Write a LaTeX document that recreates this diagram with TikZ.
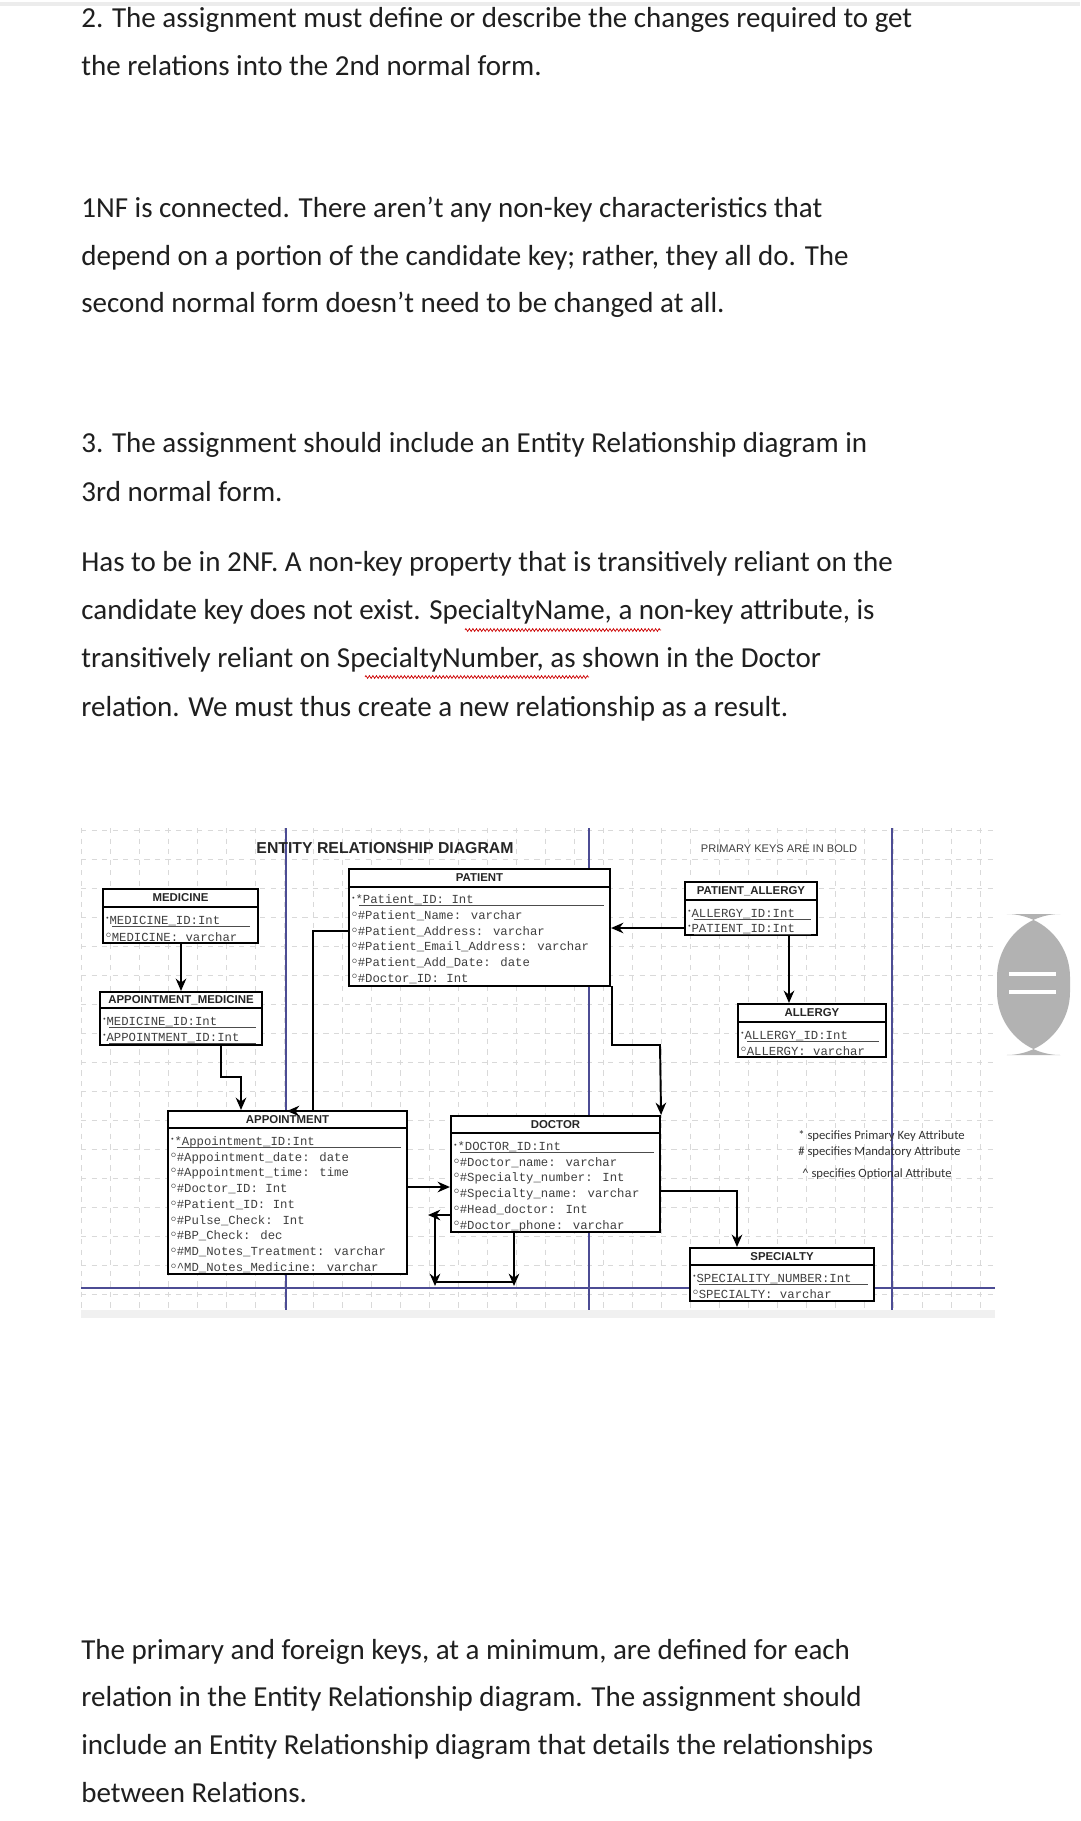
\documentclass[tikz,border=0pt]{standalone}
\usepackage{fontspec}
\setmainfont{Carlito}
\newfontfamily\monof{Liberation Mono}
\newfontfamily\hdrf{Liberation Sans}
\usetikzlibrary{fit,arrows.meta,decorations.pathmorphing}
\newcommand{\kmk}{\raisebox{2pt}{\fontsize{4}{4}\selectfont\textbullet}}
\newcommand{\omk}{\raisebox{2pt}{\fontsize{4}{4}\selectfont$\circ$}}
\begin{document}
\begin{tikzpicture}[x=0.02cm,y=-0.02cm,
  para/.style={anchor=mid west,inner sep=0,font=\fontsize{16.5}{20}\selectfont,text=black!88},
  erbox/.style={draw=black,line width=1.2pt,inner sep=0,fill=white},
  hdr/.style={font=\hdrf\bfseries\fontsize{6.5}{7}\selectfont,text=black!85,inner sep=0},
  row/.style={anchor=west,font=\monof\fontsize{7}{8}\selectfont,text=black!75,inner sep=0},
  conn/.style={line width=1.1pt,draw=black},
  arr/.style={conn,-{Stealth[length=7pt,width=6pt]}},
  blue/.style={draw=blue!40!black!70,line width=0.7pt},
  ul/.style={draw=black!70,line width=0.4pt}]
\useasboundingbox (0,0) rectangle (1080,1821);
\fill[white] (0,0) rectangle (1080,1821);
\draw[gray!15,line width=2pt] (0,4) -- (1080,4);
% paragraphs
\node[para] (t1) at (81,23) {2. The assignment must define or describe the changes required to get};
\node[para] (t2) at (81,71) {the relations into the 2nd normal form.};
\node[para] (t3) at (81,213) {1NF is connected. There aren't any non-key characteristics that};
\node[para] (t4) at (81,261) {depend on a portion of the candidate key; rather, they all do. The};
\node[para] (t5) at (81,308) {second normal form doesn't need to be changed at all.};
\node[para] (t6) at (81,448) {3. The assignment should include an Entity Relationship diagram in};
\node[para] (t7) at (81,497) {3rd normal form.};
\node[para] (t8) at (81,567) {Has to be in 2NF. A non-key property that is transitively reliant on the};
\node[para] (t9) at (81,615) {candidate key does not exist. SpecialtyName, a non-key attribute, is};
\node[para] (t10) at (81,663) {transitively reliant on SpecialtyNumber, as shown in the Doctor};
\node[para] (t11) at (81,712) {relation. We must thus create a new relationship as a result.};
\draw[red!80!black,line width=0.4pt,decorate,decoration={zigzag,amplitude=0.8pt,segment length=2pt}] (465,630) -- (661,630);
\draw[red!80!black,line width=0.4pt,decorate,decoration={zigzag,amplitude=0.8pt,segment length=2pt}] (365,677) -- (589,677);
\node[para] (t12) at (81,1655) {The primary and foreign keys, at a minimum, are defined for each};
\node[para] (t13) at (81,1702) {relation in the Entity Relationship diagram. The assignment should};
\node[para] (t14) at (81,1750) {include an Entity Relationship diagram that details the relationships};
\node[para] (t15) at (81,1798) {between Relations.};
% diagram background
\fill[white] (81,828) rectangle (995,1318);
\foreach \gx in {81,110,...,995} \draw[gray!30,dashed,line width=0.3pt] (\gx,828) -- (\gx,1310);
\foreach \gy in {830,859,...,1310} \draw[gray!30,dashed,line width=0.3pt] (81,\gy) -- (995,\gy);
\fill[gray!12] (81,1310) rectangle (995,1318);
\draw[blue] (286,828) -- (286,1310);
\draw[blue] (589,828) -- (589,1310);
\draw[blue] (892,828) -- (892,1310);
\draw[blue] (81,1288) -- (995,1288);
\node[font=\hdrf\bfseries\fontsize{9}{10}\selectfont,text=black!85] (title) at (385,848) {ENTITY RELATIONSHIP DIAGRAM};
\node[font=\hdrf\fontsize{6.3}{7}\selectfont,text=black!75] (pk) at (779,849) {PRIMARY KEYS ARE IN BOLD};
% boxes
\node[erbox,fit={(103,889)(258,943)}] (medicine) {};
\draw[line width=1.2pt] (103,907) -- (258,907);
\node[hdr] at (180.5,898) {MEDICINE};
\node[row] at (105,921) {\kmk MEDICINE\_ID:Int};
\draw[ul] (112,926) -- (250,926);
\node[row] at (105,937) {\omk MEDICINE: varchar};

\node[erbox,fit={(100,992)(262,1045)}] (apptmed) {};
\draw[line width=1.2pt] (100,1008) -- (262,1008);
\node[hdr] at (181,1000) {APPOINTMENT\_MEDICINE};
\node[row] at (102,1022) {\kmk MEDICINE\_ID:Int};
\draw[ul] (109,1027) -- (256,1027);
\node[row] at (102,1038) {\kmk APPOINTMENT\_ID:Int};
\draw[ul] (109,1043) -- (256,1043);

\node[erbox,fit={(349,869)(610,986)}] (patient) {};
\draw[line width=1.2pt] (349,887) -- (610,887);
\node[hdr] at (479.5,878) {PATIENT};
\node[row] at (351,900) {\kmk*Patient\_ID: Int};
\draw[ul] (359,905) -- (604,905);
\node[row] at (351,916) {\omk\#Patient\_Name: varchar};
\node[row] at (351,932) {\omk\#Patient\_Address: varchar};
\node[row] at (351,947) {\omk\#Patient\_Email\_Address: varchar};
\node[row] at (351,963) {\omk\#Patient\_Add\_Date: date};
\node[row] at (351,979) {\omk\#Doctor\_ID: Int};

\node[erbox,fit={(685,882)(817,935)}] (pallergy) {};
\draw[line width=1.2pt] (685,900) -- (817,900);
\node[hdr] at (751,891) {PATIENT\_ALLERGY};
\node[row] at (687,914) {\kmk ALLERGY\_ID:Int};
\draw[ul] (694,919) -- (811,919);
\node[row] at (687,929) {\kmk PATIENT\_ID:Int};
\draw[ul] (694,934) -- (811,934);

\node[erbox,fit={(738,1004)(886,1057)}] (allergy) {};
\draw[line width=1.2pt] (738,1022) -- (886,1022);
\node[hdr] at (812,1013) {ALLERGY};
\node[row] at (740,1036) {\kmk ALLERGY\_ID:Int};
\draw[ul] (747,1041) -- (879,1041);
\node[row] at (740,1051) {\omk ALLERGY: varchar};

\node[erbox,fit={(168,1111)(407,1274)}] (appointment) {};
\draw[line width=1.2pt] (168,1128) -- (407,1128);
\node[hdr] at (287.5,1120) {APPOINTMENT};
\node[row] at (170,1142) {\kmk*Appointment\_ID:Int};
\draw[ul] (177,1147) -- (401,1147);
\node[row] at (170,1158) {\omk\#Appointment\_date: date};
\node[row] at (170,1173) {\omk\#Appointment\_time: time};
\node[row] at (170,1189) {\omk\#Doctor\_ID: Int};
\node[row] at (170,1205) {\omk\#Patient\_ID: Int};
\node[row] at (170,1221) {\omk\#Pulse\_Check: Int};
\node[row] at (170,1236) {\omk\#BP\_Check: dec};
\node[row] at (170,1252) {\omk\#MD\_Notes\_Treatment: varchar};
\node[row] at (170,1268) {\omk\^{}MD\_Notes\_Medicine: varchar};

\node[erbox,fit={(451,1116)(660,1232)}] (doctor) {};
\draw[line width=1.2pt] (451,1133) -- (660,1133);
\node[hdr] at (555.5,1125) {DOCTOR};
\node[row] at (453,1147) {\kmk*DOCTOR\_ID:Int};
\draw[ul] (460,1152) -- (654,1152);
\node[row] at (453,1163) {\omk\#Doctor\_name: varchar};
\node[row] at (453,1178) {\omk\#Specialty\_number: Int};
\node[row] at (453,1194) {\omk\#Specialty\_name: varchar};
\node[row] at (453,1210) {\omk\#Head\_doctor: Int};
\node[row] at (453,1226) {\omk\#Doctor\_phone: varchar};

\node[erbox,fit={(690,1248)(874,1301)}] (specialty) {};
\draw[line width=1.2pt] (690,1265) -- (874,1265);
\node[hdr] at (782,1257) {SPECIALTY};
\node[row] at (692,1279) {\kmk SPECIALITY\_NUMBER:Int};
\draw[ul] (699,1284) -- (868,1284);
\node[row] at (692,1294) {\omk SPECIALTY: varchar};

% legend
\node[anchor=west,inner sep=0,font=\fontsize{7.2}{8}\selectfont,text=black!80] (lg1) at (798,1136) {* specifies Primary Key Attribute};
\node[anchor=west,inner sep=0,font=\fontsize{7.2}{8}\selectfont,text=black!80] (lg2) at (798,1152) {\# specifies Mandatory Attribute};
\node[anchor=west,inner sep=0,font=\fontsize{7.2}{8}\selectfont,text=black!80] (lg3) at (802,1174) {\^{} specifies Optional Attribute};

% connectors
\coordinate (c1) at (181,943); \coordinate (c1e) at (181,992);
\draw[arr] (medicine.south -| c1) -- (apptmed.north -| c1e);
\coordinate (c2a) at (221,1077); \coordinate (c2b) at (241,1077);
\draw[arr] (apptmed.south -| c2a) -- (c2a) -- (c2b) -- (appointment.north -| c2b);
\coordinate (c3y) at (0,931); \coordinate (c3a) at (313,931); \coordinate (c3b) at (313,1111); \coordinate (c3c) at (287,1111);
\draw[arr] (patient.west |- c3y) -- (c3a) -- (c3b) -- (c3c);
\coordinate (c4y) at (0,928);
\draw[arr] (pallergy.west |- c4y) -- (patient.east |- c4y);
\coordinate (c5) at (789,0);
\draw[arr] (pallergy.south -| c5) -- (allergy.north -| c5);
\coordinate (c6a) at (612,986); \coordinate (c6b) at (612,1045); \coordinate (c6c) at (660,1045);
\draw[arr] (c6a) -- (c6b) -- (c6c) -- (doctor.north east);
\coordinate (c7y) at (0,1187);
\draw[arr] (appointment.east |- c7y) -- (doctor.west |- c7y);
\coordinate (c8y) at (0,1191); \coordinate (c8a) at (737,1191);
\draw[arr] (doctor.east |- c8y) -- (c8a) -- (specialty.north -| c8a);
\coordinate (c9y) at (0,1215); \coordinate (c9l) at (428,1215); \coordinate (c9a) at (435,1215);
\coordinate (c9b) at (435,1286); \coordinate (c9c) at (514,1282); \coordinate (c9d) at (514,1286); \coordinate (c9m) at (435,1282);
\draw[arr] (doctor.west |- c9y) -- (c9l);
\draw[arr] (c9a) -- (c9b);
\draw[conn] (c9m) -- (c9c);
\coordinate (c9x) at (514,0);
\draw[arr] (doctor.south -| c9x) -- (c9d);

% scrollbar
\fill[gray!60,rounded corners=36] (997,914) rectangle (1070,1055);
\draw[white,line width=2.2pt] (1009,974) -- (1056,974);
\draw[white,line width=2.2pt] (1009,992) -- (1056,992);
\end{tikzpicture}
\end{document}
